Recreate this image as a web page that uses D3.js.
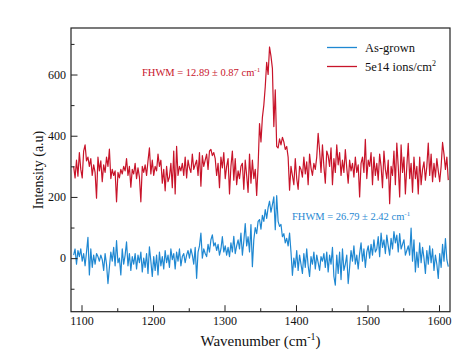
<!DOCTYPE html>
<html>
<head>
<meta charset="utf-8">
<script src="https://cdnjs.cloudflare.com/ajax/libs/d3/7.8.5/d3.min.js"></script>
<style>
  body { margin: 0; background: #fff; }
  svg { display: block; }
  text { font-family: 'Liberation Serif', 'Times New Roman', serif; }
</style>
</head>
<body>
<svg id="chart"></svg>
<script>
// wavenumber grid: 1089, 1091, ... 1613 (step 2)
const startWave = 1089;
const stepWave = 2;

// As-grown (blue)
const asGrown = [
  10, 30, -20, 25, 5, 30, -10, 15, -25, 20,
  68, -55, 30, -30, 10, -20, 15, 5, -10, 10,
  -5, -40, 15, -20, -83, -30, 20, -10, 35, -25,
  57, -15, 0, -55, 30, -20, 10, 53, -25, 15,
  -40, 5, -20, 15, -35, 10, -15, 20, -45, 0,
  -30, 15, -50, 37, -10, -60, 5, -40, 10, -55,
  20, -25, 5, -35, 25, -15, 10, -30, 30, -5,
  15, -35, 20, -10, 30, -25, 5, 15, -15, 10,
  25, 0, 30, 10, -20, 35, -66, 20, 40, 82,
  0, 30, 15, 5, 45, 20, 60, 76, 40, 50,
  25, 45, 10, 30, 70, 20, 40, 10, 35, 5,
  50, 20, 71, 15, 40, 60, 30, 82, 10, 55,
  113, 40, 70, 20, 110, -28, 60, 100, 80, 120,
  126, 95, 140, 120, 159, 130, 165, 186, 150, 175,
  200, 93, 204, 120, 104, 110, 70, 80, 50, 65,
  40, 82, 20, -56, 0, -30, 25, -40, 10, -20,
  -50, 15, -30, 30, -25, -60, 5, -20, 20, -35,
  10, -15, -40, 5, -10, 15, -30, 20, -45, 10,
  -20, 35, -60, -88, 10, -50, 20, -70, 30, -40,
  -20, 10, -83, -30, 25, -10, 40, -20, 10, -35,
  15, 50, -10, 30, -30, 20, 40, 0, 45, 10,
  60, 20, 30, 70, 5, 82, 35, 60, 15, 75,
  40, 10, 65, 30, 87, 50, 75, 20, 80, 30,
  45, 60, 10, 25, 40, 10, 98, -10, 60, -45,
  20, -30, 50, -15, 35, 0, -50, 25, -20, 40,
  -15, 30, -40, 10, -20, -66, 15, -30, 45, -10,
  64, -5, -28
];

// 5e14 ions/cm2 (red)
const irradiated = [
  300, 262, 320, 268, 345, 290, 262, 350, 370, 318,
  330, 300, 325, 270, 305, 280, 196, 330, 285, 318,
  250, 305, 280, 330, 300, 356, 260, 290, 270, 285,
  184, 280, 262, 290, 275, 300, 285, 325, 270, 300,
  232, 290, 275, 310, 260, 295, 265, 184, 300, 280,
  305, 270, 318, 360, 275, 320, 270, 300, 285, 340,
  300, 320, 245, 290, 220, 300, 250, 265, 310, 230,
  350, 210, 365, 270, 300, 285, 310, 270, 330, 262,
  320, 295, 280, 340, 290, 305, 320, 270, 345, 235,
  335, 300, 320, 340, 290, 350, 355, 335, 345, 325,
  270, 310, 230, 330, 295, 345, 260, 300, 325, 210,
  300, 350, 255, 325, 240, 285, 260, 300, 310, 225,
  320, 270, 215, 340, 245, 320, 260, 290, 205, 300,
  440, 380, 460, 500, 560, 640, 600, 690, 660, 620,
  430, 550, 365, 360, 390, 370, 395, 380, 355, 365,
  330, 222, 300, 270, 240, 325, 260, 225, 300, 290,
  265, 330, 275, 315, 240, 340, 295, 270, 310, 290,
  330, 408, 350, 280, 370, 300, 245, 350, 335, 300,
  360, 240, 325, 280, 370, 305, 345, 270, 320, 280,
  355, 295, 245, 320, 285, 310, 265, 330, 280, 305,
  200, 310, 330, 280, 388, 260, 320, 300, 345, 240,
  330, 270, 310, 255, 340, 300, 230, 350, 290, 260,
  320, 178, 300, 270, 350, 240, 376, 300, 200, 370,
  280, 330, 210, 300, 375, 260, 310, 215, 330, 260,
  300, 210, 330, 240, 290, 315, 255, 300, 376, 270,
  340, 250, 310, 265, 325, 285, 250, 300, 378, 340,
  290, 330, 255
];

const xMajorTicks = [1100, 1200, 1300, 1400, 1500, 1600];
const xMinorTicks = [1150, 1250, 1350, 1450, 1550];
const yMajorTicks = [0, 200, 400, 600];
const yMinorTicks = [-100, 100, 300, 500, 700];

const seriesNames = ['As-grown', '5e14 ions/cm²'];
const seriesColors = ['#1f88d2', '#c8142a'];

let width = 474;
let height = 354;
let margin = { left: 71, right: 24, top: 28, bottom: 42.3 };

let svg = d3.select('#chart').attr('width', width).attr('height', height);

let x = d3.scaleLinear()
  .domain([1085.3, 1615.4])
  .range([margin.left, width - margin.right]);
let y = d3.scaleLinear()
  .domain([-175, 752])
  .range([height - margin.bottom, margin.top]);

let toPoints = (vals) => vals.map((v, i) => ({ w: startWave + i * stepWave, v: v }));

// axes (ticks point inward)
function drawAxes() {
  let bottom = height - margin.bottom;
  let gx = svg.append('g').attr('transform', `translate(0,${bottom})`);
  gx.call(d3.axisBottom(x).tickValues(xMajorTicks).tickSize(-6.5).tickPadding(5).tickFormat(d3.format('d')));
  gx.append('g').call(d3.axisBottom(x).tickValues(xMinorTicks).tickSize(-3.5).tickFormat(''));

  let gy = svg.append('g').attr('transform', `translate(${margin.left},0)`);
  gy.call(d3.axisLeft(y).tickValues(yMajorTicks).tickSize(-6.5).tickPadding(5));
  gy.append('g').call(d3.axisLeft(y).tickValues(yMinorTicks).tickSize(-3.5).tickFormat(''));

  svg.selectAll('.domain').remove();
  svg.selectAll('.tick line').attr('stroke', '#222').attr('stroke-width', 1);
  svg.selectAll('.tick text')
    .attr('fill', '#111')
    .style('font-size', '12px')
    .style('font-family', "'Liberation Serif', serif");
}

function drawLines() {
  let line = d3.line().x((d) => x(d.w)).y((d) => y(d.v));
  [asGrown, irradiated].forEach((vals, i) => {
    svg.append('path')
      .datum(toPoints(vals))
      .attr('fill', 'none')
      .attr('stroke', seriesColors[i])
      .attr('stroke-width', 1.2)
      .attr('stroke-linejoin', 'round')
      .attr('d', line);
  });
}

function drawFrame() {
  svg.append('rect')
    .attr('x', margin.left)
    .attr('y', margin.top)
    .attr('width', width - margin.right - margin.left)
    .attr('height', height - margin.bottom - margin.top)
    .attr('fill', 'none')
    .attr('stroke', '#222')
    .attr('stroke-width', 1.2);
}

function drawLabels() {
  svg.append('text')
    .attr('x', (margin.left + width - margin.right) / 2)
    .attr('y', 346)
    .attr('text-anchor', 'middle')
    .style('font-size', '15px')
    .attr('fill', '#111')
    .html('Wavenumber (cm<tspan dy="-6" font-size="10px">-1</tspan><tspan dy="6">)</tspan>');

  svg.append('text')
    .attr('transform', 'translate(43,170) rotate(-90)')
    .attr('text-anchor', 'middle')
    .style('font-size', '14px')
    .attr('fill', '#111')
    .text('Intensity (a.u)');

  // FWHM notes
  svg.append('text')
    .attr('x', 142)
    .attr('y', 75.5)
    .style('font-size', '10.5px')
    .attr('fill', seriesColors[1])
    .html('FHWM = 12.89 ± 0.87 cm<tspan dy="-4" font-size="7px">-1</tspan>');

  svg.append('text')
    .attr('x', 292)
    .attr('y', 220)
    .style('font-size', '10.5px')
    .attr('fill', seriesColors[0])
    .html('FHWM = 26.79 ± 2.42 cm<tspan dy="-4" font-size="7px">-1</tspan>');
}

function drawLegend() {
  let items = [
    { name: 'As-grown', color: seriesColors[0], y: 47.5 },
    { name: '5e14 ions/cm', sup: '2', color: seriesColors[1], y: 66.5 }
  ];
  items.forEach((d) => {
    svg.append('line')
      .attr('x1', 327).attr('x2', 357)
      .attr('y1', d.y).attr('y2', d.y)
      .attr('stroke', d.color)
      .attr('stroke-width', 1.3);
    let t = svg.append('text')
      .attr('x', 365)
      .attr('y', d.y + 4.2)
      .style('font-size', '12.5px')
      .attr('fill', '#111')
      .text(d.name);
    if (d.sup) t.append('tspan').attr('dy', -5).style('font-size', '8px').text(d.sup);
  });
}

drawLines();
drawFrame();
drawAxes();
drawLabels();
drawLegend();
</script>
</body>
</html>
